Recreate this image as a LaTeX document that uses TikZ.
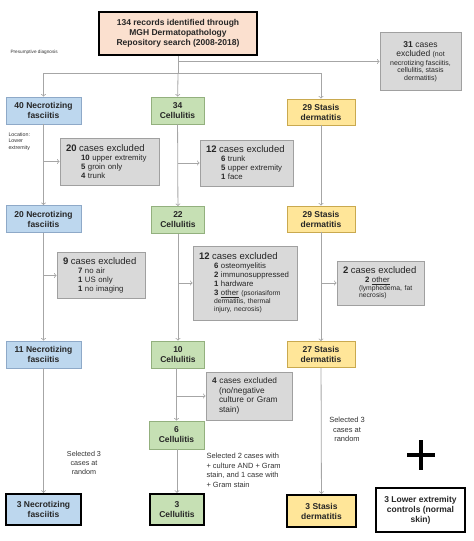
\documentclass[tikz,border=0pt]{standalone}
\usepackage{fontspec}
\setmainfont{Liberation Sans}
\usetikzlibrary{calc,positioning}

\definecolor{nfblue}{HTML}{BDD7EE}
\definecolor{nfline}{HTML}{8EA9C8}
\definecolor{celgreen}{HTML}{C6E0B4}
\definecolor{celline}{HTML}{93B07E}
\definecolor{sdyellow}{HTML}{FFE699}
\definecolor{sdline}{HTML}{C9A94F}
\definecolor{topfill}{HTML}{FBE0CF}
\definecolor{exgray}{HTML}{D9D9D9}
\definecolor{exline}{HTML}{A0A0A0}
\definecolor{flow}{HTML}{A6A6A6}

\newcommand{\exhead}[2]{\mbox{\fontsize{9.5}{11}\selectfont\textbf{#1} #2}}
\newcommand{\exitem}[3][15pt]{\mbox{\hspace*{#1}\textbf{#2} #3}}
\newcommand{\sml}[2][15pt]{\mbox{\hspace*{#1}\fontsize{6.8}{8}\selectfont #2}}

\begin{document}
\begin{tikzpicture}[x=1pt,y=-1pt]
    \tikzstyle{box} = [draw, align=center, inner sep=1pt, text=black!85, font=\fontsize{8.5}{10}\selectfont\bfseries]
    \tikzstyle{nf} = [box, fill=nfblue, draw=nfline, line width=0.8pt, minimum width=75pt, minimum height=27pt]
    \tikzstyle{cel} = [box, fill=celgreen, draw=celline, line width=0.8pt, minimum width=53pt, minimum height=27pt]
    \tikzstyle{sd} = [box, fill=sdyellow, draw=sdline, line width=0.8pt, minimum width=68pt, minimum height=26pt]
    \tikzstyle{fin} = [draw=black, line width=2.2pt]
    \tikzstyle{excl} = [draw=exline, fill=exgray, line width=0.8pt, align=left, inner xsep=6pt, inner ysep=2pt, text=black!85, font=\fontsize{7.8}{9}\selectfont]
    \tikzstyle{note} = [align=center, text=black!80, font=\fontsize{7.2}{9}\selectfont]
    \tikzstyle{flw} = [draw=flow, line width=0.8pt, >=to]

    \useasboundingbox (0,0) rectangle (474,541);

    % Records search .........................
    \node[box, fill=topfill, draw=black, line width=1.8pt, minimum width=158pt, minimum height=43pt] (top) at (178,33.5)
        {134 records identified through\\MGH Dermatopathology\\Repository search (2008-2018)};
    \node[excl, align=center, minimum width=81pt, minimum height=58pt, inner xsep=1pt, font=\fontsize{8.5}{9.5}\selectfont] (ex0) at (420.5,61.5)
        {\textbf{31} cases\\excluded {\fontsize{7}{8}\selectfont(not}\\[-1pt]{\fontsize{7}{8}\selectfont necrotizing fasciitis,}\\[-2pt]{\fontsize{7}{8}\selectfont cellulitis, stasis}\\[-2pt]{\fontsize{7}{8}\selectfont dermatitis)}};
    \node[note, anchor=west, font=\fontsize{4.7}{6}\selectfont] (pres) at (7,52) {Presumptive diagnosis};

    \coordinate (hub) at (178,73);

    % Presumptive diagnosis .........................
    \node[nf] (nf1) at (43.5,110.5) {40 Necrotizing\\fasciitis};
    \node[cel] (ce1) at (177.5,110.5) {34\\Cellulitis};
    \node[sd] (sd1) at (321,112) {29 Stasis\\dermatitis};
    \node[note, align=left, anchor=north west, font=\fontsize{5.3}{6.5}\selectfont] (loc) at (5,129) {Location:\\Lower\\extremity};

    \node[excl, text width=87pt, minimum height=47pt] (ex1) at (109.5,161.5)
        {\exhead{20}{cases excluded}\\\exitem{10}{upper extremity}\\\exitem{5}{groin only}\\\exitem{4}{trunk}};
    \node[excl, text width=81pt, minimum height=46pt] (ex2) at (246.5,163)
        {\exhead{12}{cases excluded}\\\exitem{6}{trunk}\\\exitem{5}{upper extremity}\\\exitem{1}{face}};

    % Lower extremity .........................
    \node[nf] (nf2) at (43.5,219) {20 Necrotizing\\fasciitis};
    \node[cel] (ce2) at (178,220) {22\\Cellulitis};
    \node[sd] (sd2) at (321,219) {29 Stasis\\dermatitis};

    \node[excl, text width=76pt, minimum height=46pt] (ex3) at (101,275.5)
        {\exhead{9}{cases excluded}\\\exitem{7}{no air}\\\exitem{1}{US only}\\\exitem{1}{no imaging}};
    \node[excl, text width=92pt, minimum height=74pt] (ex4) at (245,283)
        {\exhead{12}{cases excluded}\\\exitem{6}{osteomyelitis}\\\exitem{2}{immunosuppressed}\\\exitem{1}{hardware}\\\exitem{3}{\underline{other} {\fontsize{6.8}{8}\selectfont(psoriasiform}}\\[-1pt]\sml{dermatitis, thermal}\\[-1pt]\sml{injury, necrosis)}};
    \node[excl, text width=75pt, minimum height=44pt] (ex5) at (380.5,283)
        {\exhead{2}{cases excluded}\\\exitem[22pt]{2}{\underline{other}}\\[-1pt]\sml[16pt]{(lymphedema, fat}\\[-2pt]\sml[16pt]{necrosis)}};

    % Inclusion criteria .........................
    \node[nf] (nf3) at (43.5,354.5) {11 Necrotizing\\fasciitis};
    \node[cel] (ce3) at (178,354.5) {10\\Cellulitis};
    \node[sd] (sd3) at (321,354.5) {27 Stasis\\dermatitis};

    \node[excl, text width=74pt, minimum height=48pt, font=\fontsize{8.3}{9.5}\selectfont] (ex6) at (249,396)
        {\textbf{4} cases excluded\\\hspace*{7pt}(no/negative\\\hspace*{7pt}culture or Gram\\\hspace*{7pt}stain)};
    \node[cel, minimum width=55pt, minimum height=28pt] (ce4) at (176.5,435) {6\\Cellulitis};

    % Final selection .........................
    \node[nf, fin, minimum height=31pt] (nf4) at (43.5,509.5) {3 Necrotizing\\fasciitis};
    \node[cel, fin, minimum width=54pt, minimum height=31pt] (ce5) at (177,509.5) {3\\Cellulitis};
    \node[sd, fin, minimum width=69pt, minimum height=32pt] (sd4) at (321.5,511) {3 Stasis\\dermatitis};
    \node[box, fin, minimum width=89pt, minimum height=44pt] (ctrl) at (420.5,510) {3 Lower extremity\\controls (normal\\skin)};

    \node[note] (sel1) at (84,462.5) {Selected 3\\cases at\\random};
    \node[note, align=left, anchor=north west, font=\fontsize{7.5}{9.5}\selectfont] (sel2) at (203,450) {Selected 2 cases with\\+ culture AND + Gram\\stain, and 1 case with\\+ Gram stain};
    \node[note, font=\fontsize{7.5}{9.5}\selectfont] (sel3) at (347,429.5) {Selected 3\\cases at\\random};

    \draw[line width=4pt, line cap=butt] (407,455) -- (435,455);
    \draw[line width=4pt, line cap=butt] (421,440) -- (421,470);

    % Connectors .........................
    \draw[flw] (top) -- (hub);
    \draw[flw,->] (top.south |- ex0) -- (ex0);
    \draw[flw,->] (hub) -| (nf1);
    \draw[flw,->] (hub) -- (ce1);
    \draw[flw,->] (hub) -| (sd1);

    \draw[flw,->] (nf1) -- (nf2);
    \draw[flw,->] (ce1) -- (ce2);
    \draw[flw,->] (sd1) -- (sd2);
    \draw[flw,->] (nf1 |- ex1) -- (ex1);
    \draw[flw,->] (ce1 |- ex2) -- (ex2);

    \draw[flw,->] (nf2) -- (nf3);
    \draw[flw,->] (ce2) -- (ce3);
    \draw[flw,->] (sd2) -- (sd3);
    \draw[flw,->] (nf2 |- ex3) -- (ex3);
    \draw[flw,->] (ce2 |- ex4) -- (ex4);
    \draw[flw,->] (sd2 |- ex5) -- (ex5);

    \draw[flw,->] (ce3.south -| ce4) -- (ce4);
    \draw[flw,->] (ce4 |- ex6) -- (ex6);

    \draw[flw,->] (nf3) -- (nf4);
    \draw[flw,->] (ce4.south -| ce5) -- (ce5);
    \draw[flw,->] (sd3) -- (sd4);
\end{tikzpicture}
\end{document}
